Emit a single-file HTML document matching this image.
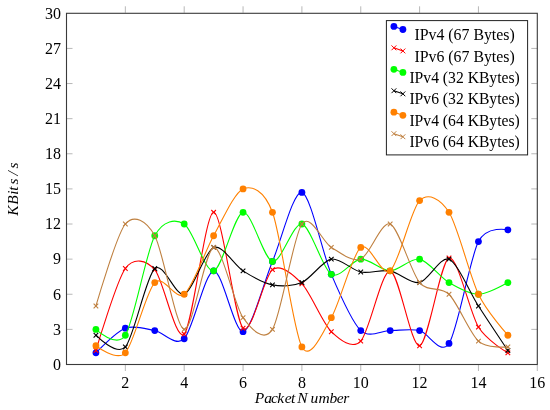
<!DOCTYPE html>
<html><head><meta charset="utf-8"><title>KBits/s vs PacketNumber</title>
<style>
html,body{margin:0;padding:0;background:#fff;width:550px;height:410px;overflow:hidden}
svg{display:block}
text{font-family:"Liberation Serif","DejaVu Serif",serif;fill:#000}
</style></head><body>
<svg width="550" height="410" viewBox="0 0 550 410">
<rect width="550" height="410" fill="#fff"/>
<path d="M125.35 365V371M125.35 12.8V6.3M184.2 365V371M184.2 12.8V6.3M243.05 365V371M243.05 12.8V6.3M301.9 365V371M301.9 12.8V6.3M360.75 365V371M360.75 12.8V6.3M419.6 365V371M419.6 12.8V6.3M478.45 365V371M478.45 12.8V6.3M537.3 365V371M66.5 329.38H72.5M537.3 329.38H531.3M66.5 294.26H72.5M537.3 294.26H531.3M66.5 259.14H72.5M537.3 259.14H531.3M66.5 224.02H72.5M537.3 224.02H531.3M66.5 188.9H72.5M537.3 188.9H531.3M66.5 153.78H72.5M537.3 153.78H531.3M66.5 118.66H72.5M537.3 118.66H531.3M66.5 83.54H72.5M537.3 83.54H531.3M66.5 48.42H72.5M537.3 48.42H531.3" stroke="#9a9a9a" stroke-width="0.7" fill="none"/>
<defs><clipPath id="c"><rect x="66.5" y="13.3" width="470.8" height="351.2"/></clipPath></defs>
<g clip-path="url(#c)" stroke-linejoin="round">
<path d="M95.92 352.79C95.92 352.79 116.82 331.43 125.35 328.21C133.88 324.98 146.24 329.02 154.77 330.55C163.31 332.08 175.67 347.4 184.2 338.75C192.73 330.09 205.09 271.87 213.62 270.85C222.16 269.83 234.52 333.08 243.05 331.72C251.58 330.36 263.94 281.68 272.47 261.48C281.01 241.28 293.37 190.54 301.9 192.41C310.43 194.28 322.79 254.33 331.32 274.36C339.86 294.39 352.22 322.4 360.75 330.55C369.28 338.7 381.64 330.55 390.17 330.55C398.71 330.55 411.07 328.68 419.6 330.55C428.13 332.42 440.49 356.33 449.02 343.43C457.56 330.53 469.92 258.05 478.45 241.58C486.98 225.11 507.87 229.87 507.87 229.87" stroke="#0000ff" stroke-width="1.1" fill="none"/>
<circle cx="95.92" cy="352.79" r="3.4" fill="#0000ff"/><circle cx="125.35" cy="328.21" r="3.4" fill="#0000ff"/><circle cx="154.77" cy="330.55" r="3.4" fill="#0000ff"/><circle cx="184.2" cy="338.75" r="3.4" fill="#0000ff"/><circle cx="213.62" cy="270.85" r="3.4" fill="#0000ff"/><circle cx="243.05" cy="331.72" r="3.4" fill="#0000ff"/><circle cx="272.47" cy="261.48" r="3.4" fill="#0000ff"/><circle cx="301.9" cy="192.41" r="3.4" fill="#0000ff"/><circle cx="331.32" cy="274.36" r="3.4" fill="#0000ff"/><circle cx="360.75" cy="330.55" r="3.4" fill="#0000ff"/><circle cx="390.17" cy="330.55" r="3.4" fill="#0000ff"/><circle cx="419.6" cy="330.55" r="3.4" fill="#0000ff"/><circle cx="449.02" cy="343.43" r="3.4" fill="#0000ff"/><circle cx="478.45" cy="241.58" r="3.4" fill="#0000ff"/><circle cx="507.87" cy="229.87" r="3.4" fill="#0000ff"/>
<path d="M95.92 350.45C95.92 350.45 116.82 280.22 125.35 268.51C133.88 256.79 146.24 260.17 154.77 269.68C163.31 279.18 175.67 342.38 184.2 334.06C192.73 325.75 205.09 213.16 213.62 212.31C222.16 211.46 234.52 319.89 243.05 328.21C251.58 336.53 263.94 276.13 272.47 269.68C281.01 263.23 293.37 274.73 301.9 283.72C310.43 292.72 322.79 323.4 331.32 331.72C339.86 340.04 352.22 349.91 360.75 341.09C369.28 332.26 381.64 270.17 390.17 270.85C398.71 271.53 411.07 347.64 419.6 345.77C428.13 343.9 440.49 260.69 449.02 257.97C457.56 255.25 469.92 313.29 478.45 327.04C486.98 340.79 507.87 352.79 507.87 352.79" stroke="#ff0000" stroke-width="1.1" fill="none"/>
<path d="M93.62 348.15L98.22 352.75M93.62 352.75L98.22 348.15" stroke="#ff0000" stroke-width="1.1" fill="none"/><path d="M123.05 266.21L127.65 270.81M123.05 270.81L127.65 266.21" stroke="#ff0000" stroke-width="1.1" fill="none"/><path d="M152.47 267.38L157.07 271.98M152.47 271.98L157.07 267.38" stroke="#ff0000" stroke-width="1.1" fill="none"/><path d="M181.9 331.76L186.5 336.36M181.9 336.36L186.5 331.76" stroke="#ff0000" stroke-width="1.1" fill="none"/><path d="M211.32 210.01L215.93 214.61M211.32 214.61L215.93 210.01" stroke="#ff0000" stroke-width="1.1" fill="none"/><path d="M240.75 325.91L245.35 330.51M240.75 330.51L245.35 325.91" stroke="#ff0000" stroke-width="1.1" fill="none"/><path d="M270.17 267.38L274.77 271.98M270.17 271.98L274.77 267.38" stroke="#ff0000" stroke-width="1.1" fill="none"/><path d="M299.6 281.42L304.2 286.02M299.6 286.02L304.2 281.42" stroke="#ff0000" stroke-width="1.1" fill="none"/><path d="M329.02 329.42L333.62 334.02M329.02 334.02L333.62 329.42" stroke="#ff0000" stroke-width="1.1" fill="none"/><path d="M358.45 338.79L363.05 343.39M358.45 343.39L363.05 338.79" stroke="#ff0000" stroke-width="1.1" fill="none"/><path d="M387.87 268.55L392.47 273.15M387.87 273.15L392.47 268.55" stroke="#ff0000" stroke-width="1.1" fill="none"/><path d="M417.3 343.47L421.9 348.07M417.3 348.07L421.9 343.47" stroke="#ff0000" stroke-width="1.1" fill="none"/><path d="M446.72 255.67L451.32 260.27M446.72 260.27L451.32 255.67" stroke="#ff0000" stroke-width="1.1" fill="none"/><path d="M476.15 324.74L480.75 329.34M476.15 329.34L480.75 324.74" stroke="#ff0000" stroke-width="1.1" fill="none"/><path d="M505.57 350.49L510.17 355.09M505.57 355.09L510.17 350.49" stroke="#ff0000" stroke-width="1.1" fill="none"/>
<path d="M95.92 329.38C95.92 329.38 116.82 348.81 125.35 335.23C133.88 321.65 146.24 251.85 154.77 235.73C163.31 219.6 175.67 218.93 184.2 224.02C192.73 229.11 205.09 272.54 213.62 270.85C222.16 269.15 234.52 213.67 243.05 212.31C251.58 210.96 263.94 259.78 272.47 261.48C281.01 263.18 293.37 222.15 301.9 224.02C310.43 225.89 322.79 269.27 331.32 274.36C339.86 279.45 352.22 259.65 360.75 259.14C369.28 258.63 381.64 270.85 390.17 270.85C398.71 270.85 411.07 257.44 419.6 259.14C428.13 260.84 440.49 277.46 449.02 282.55C457.56 287.65 469.92 294.26 478.45 294.26C486.98 294.26 507.87 282.55 507.87 282.55" stroke="#00ff00" stroke-width="1.1" fill="none"/>
<circle cx="95.92" cy="329.38" r="3.4" fill="#00ff00"/><circle cx="125.35" cy="335.23" r="3.4" fill="#00ff00"/><circle cx="154.77" cy="235.73" r="3.4" fill="#00ff00"/><circle cx="184.2" cy="224.02" r="3.4" fill="#00ff00"/><circle cx="213.62" cy="270.85" r="3.4" fill="#00ff00"/><circle cx="243.05" cy="212.31" r="3.4" fill="#00ff00"/><circle cx="272.47" cy="261.48" r="3.4" fill="#00ff00"/><circle cx="301.9" cy="224.02" r="3.4" fill="#00ff00"/><circle cx="331.32" cy="274.36" r="3.4" fill="#00ff00"/><circle cx="360.75" cy="259.14" r="3.4" fill="#00ff00"/><circle cx="390.17" cy="270.85" r="3.4" fill="#00ff00"/><circle cx="419.6" cy="259.14" r="3.4" fill="#00ff00"/><circle cx="449.02" cy="282.55" r="3.4" fill="#00ff00"/><circle cx="478.45" cy="294.26" r="3.4" fill="#00ff00"/><circle cx="507.87" cy="282.55" r="3.4" fill="#00ff00"/>
<path d="M95.92 335.23C95.92 335.23 116.82 356.62 125.35 346.94C133.88 337.26 146.24 276.14 154.77 268.51C163.31 260.87 175.67 297.32 184.2 294.26C192.73 291.2 205.09 250.83 213.62 247.43C222.16 244.04 234.52 265.41 243.05 270.85C251.58 276.28 263.94 283.2 272.47 284.89C281.01 286.59 293.37 286.29 301.9 282.55C310.43 278.82 322.79 260.67 331.32 259.14C339.86 257.61 352.22 270.32 360.75 272.02C369.28 273.71 381.64 269.32 390.17 270.85C398.71 272.37 411.07 284.25 419.6 282.55C428.13 280.86 440.49 255.75 449.02 259.14C457.56 262.53 469.92 292.73 478.45 305.97C486.98 319.21 507.87 350.45 507.87 350.45" stroke="#000000" stroke-width="1.1" fill="none"/>
<path d="M93.62 332.93L98.22 337.53M93.62 337.53L98.22 332.93" stroke="#000000" stroke-width="1.1" fill="none"/><path d="M123.05 344.64L127.65 349.24M123.05 349.24L127.65 344.64" stroke="#000000" stroke-width="1.1" fill="none"/><path d="M152.47 266.21L157.07 270.81M152.47 270.81L157.07 266.21" stroke="#000000" stroke-width="1.1" fill="none"/><path d="M181.9 291.96L186.5 296.56M181.9 296.56L186.5 291.96" stroke="#000000" stroke-width="1.1" fill="none"/><path d="M211.32 245.13L215.93 249.73M211.32 249.73L215.93 245.13" stroke="#000000" stroke-width="1.1" fill="none"/><path d="M240.75 268.55L245.35 273.15M240.75 273.15L245.35 268.55" stroke="#000000" stroke-width="1.1" fill="none"/><path d="M270.17 282.59L274.77 287.19M270.17 287.19L274.77 282.59" stroke="#000000" stroke-width="1.1" fill="none"/><path d="M299.6 280.25L304.2 284.85M299.6 284.85L304.2 280.25" stroke="#000000" stroke-width="1.1" fill="none"/><path d="M329.02 256.84L333.62 261.44M329.02 261.44L333.62 256.84" stroke="#000000" stroke-width="1.1" fill="none"/><path d="M358.45 269.72L363.05 274.32M358.45 274.32L363.05 269.72" stroke="#000000" stroke-width="1.1" fill="none"/><path d="M387.87 268.55L392.47 273.15M387.87 273.15L392.47 268.55" stroke="#000000" stroke-width="1.1" fill="none"/><path d="M417.3 280.25L421.9 284.85M417.3 284.85L421.9 280.25" stroke="#000000" stroke-width="1.1" fill="none"/><path d="M446.72 256.84L451.32 261.44M446.72 261.44L451.32 256.84" stroke="#000000" stroke-width="1.1" fill="none"/><path d="M476.15 303.67L480.75 308.27M476.15 308.27L480.75 303.67" stroke="#000000" stroke-width="1.1" fill="none"/><path d="M505.57 348.15L510.17 352.75M505.57 352.75L510.17 348.15" stroke="#000000" stroke-width="1.1" fill="none"/>
<path d="M95.92 345.77C95.92 345.77 116.82 361.96 125.35 352.79C133.88 343.63 146.24 291.04 154.77 282.55C163.31 274.07 175.67 301.05 184.2 294.26C192.73 287.47 205.09 251 213.62 235.73C222.16 220.45 234.52 192.29 243.05 188.9C251.58 185.51 263.94 189.4 272.47 212.31C281.01 235.23 293.37 331.66 301.9 346.94C310.43 362.22 322.79 332.1 331.32 317.67C339.86 303.24 352.22 254.22 360.75 247.43C369.28 240.64 381.64 277.64 390.17 270.85C398.71 264.06 411.07 209.09 419.6 200.61C428.13 192.12 440.49 198.73 449.02 212.31C457.56 225.89 469.92 276.44 478.45 294.26C486.98 312.08 507.87 335.23 507.87 335.23" stroke="#ff8000" stroke-width="1.1" fill="none"/>
<circle cx="95.92" cy="345.77" r="3.4" fill="#ff8000"/><circle cx="125.35" cy="352.79" r="3.4" fill="#ff8000"/><circle cx="154.77" cy="282.55" r="3.4" fill="#ff8000"/><circle cx="184.2" cy="294.26" r="3.4" fill="#ff8000"/><circle cx="213.62" cy="235.73" r="3.4" fill="#ff8000"/><circle cx="243.05" cy="188.9" r="3.4" fill="#ff8000"/><circle cx="272.47" cy="212.31" r="3.4" fill="#ff8000"/><circle cx="301.9" cy="346.94" r="3.4" fill="#ff8000"/><circle cx="331.32" cy="317.67" r="3.4" fill="#ff8000"/><circle cx="360.75" cy="247.43" r="3.4" fill="#ff8000"/><circle cx="390.17" cy="270.85" r="3.4" fill="#ff8000"/><circle cx="419.6" cy="200.61" r="3.4" fill="#ff8000"/><circle cx="449.02" cy="212.31" r="3.4" fill="#ff8000"/><circle cx="478.45" cy="294.26" r="3.4" fill="#ff8000"/><circle cx="507.87" cy="335.23" r="3.4" fill="#ff8000"/>
<path d="M95.92 305.97C95.92 305.97 116.82 234.2 125.35 224.02C133.88 213.84 146.24 220.45 154.77 235.73C163.31 251 175.67 327.68 184.2 329.38C192.73 331.08 205.09 249.13 213.62 247.43C222.16 245.74 234.52 305.79 243.05 317.67C251.58 329.56 263.94 342.96 272.47 329.38C281.01 315.8 293.37 235.9 301.9 224.02C310.43 212.14 322.79 242.34 331.32 247.43C339.86 252.53 352.22 262.53 360.75 259.14C369.28 255.75 381.64 220.63 390.17 224.02C398.71 227.41 411.07 272.37 419.6 282.55C428.13 292.74 440.49 285.77 449.02 294.26C457.56 302.75 469.92 333.45 478.45 341.09C486.98 348.73 507.87 346.94 507.87 346.94" stroke="#bf8040" stroke-width="1.1" fill="none"/>
<path d="M93.62 303.67L98.22 308.27M93.62 308.27L98.22 303.67" stroke="#bf8040" stroke-width="1.1" fill="none"/><path d="M123.05 221.72L127.65 226.32M123.05 226.32L127.65 221.72" stroke="#bf8040" stroke-width="1.1" fill="none"/><path d="M152.47 233.43L157.07 238.03M152.47 238.03L157.07 233.43" stroke="#bf8040" stroke-width="1.1" fill="none"/><path d="M181.9 327.08L186.5 331.68M181.9 331.68L186.5 327.08" stroke="#bf8040" stroke-width="1.1" fill="none"/><path d="M211.32 245.13L215.93 249.73M211.32 249.73L215.93 245.13" stroke="#bf8040" stroke-width="1.1" fill="none"/><path d="M240.75 315.37L245.35 319.97M240.75 319.97L245.35 315.37" stroke="#bf8040" stroke-width="1.1" fill="none"/><path d="M270.17 327.08L274.77 331.68M270.17 331.68L274.77 327.08" stroke="#bf8040" stroke-width="1.1" fill="none"/><path d="M299.6 221.72L304.2 226.32M299.6 226.32L304.2 221.72" stroke="#bf8040" stroke-width="1.1" fill="none"/><path d="M329.02 245.13L333.62 249.73M329.02 249.73L333.62 245.13" stroke="#bf8040" stroke-width="1.1" fill="none"/><path d="M358.45 256.84L363.05 261.44M358.45 261.44L363.05 256.84" stroke="#bf8040" stroke-width="1.1" fill="none"/><path d="M387.87 221.72L392.47 226.32M387.87 226.32L392.47 221.72" stroke="#bf8040" stroke-width="1.1" fill="none"/><path d="M417.3 280.25L421.9 284.85M417.3 284.85L421.9 280.25" stroke="#bf8040" stroke-width="1.1" fill="none"/><path d="M446.72 291.96L451.32 296.56M446.72 296.56L451.32 291.96" stroke="#bf8040" stroke-width="1.1" fill="none"/><path d="M476.15 338.79L480.75 343.39M476.15 343.39L480.75 338.79" stroke="#bf8040" stroke-width="1.1" fill="none"/><path d="M505.57 344.64L510.17 349.24M505.57 349.24L510.17 344.64" stroke="#bf8040" stroke-width="1.1" fill="none"/>
</g>
<rect x="66.5" y="13.3" width="470.8" height="351.2" fill="none" stroke="#3a3a3a" stroke-width="1.1"/>
<text x="61" y="369.8" font-size="16" text-anchor="end">0</text><text x="61" y="334.68" font-size="16" text-anchor="end">3</text><text x="61" y="299.56" font-size="16" text-anchor="end">6</text><text x="61" y="264.44" font-size="16" text-anchor="end">9</text><text x="61" y="229.32" font-size="16" text-anchor="end">12</text><text x="61" y="194.2" font-size="16" text-anchor="end">15</text><text x="61" y="159.08" font-size="16" text-anchor="end">18</text><text x="61" y="123.96" font-size="16" text-anchor="end">21</text><text x="61" y="88.84" font-size="16" text-anchor="end">24</text><text x="61" y="53.72" font-size="16" text-anchor="end">27</text><text x="61" y="18.6" font-size="16" text-anchor="end">30</text>
<text x="125.35" y="387.7" font-size="16" text-anchor="middle">2</text><text x="184.2" y="387.7" font-size="16" text-anchor="middle">4</text><text x="243.05" y="387.7" font-size="16" text-anchor="middle">6</text><text x="301.9" y="387.7" font-size="16" text-anchor="middle">8</text><text x="360.75" y="387.7" font-size="16" text-anchor="middle">10</text><text x="419.6" y="387.7" font-size="16" text-anchor="middle">12</text><text x="478.45" y="387.7" font-size="16" text-anchor="middle">14</text><text x="537.3" y="387.7" font-size="16" text-anchor="middle">16</text>
<text x="254.8 264.13 270.96 277.37 284.75 291.05 297.2 310.62 318.6 329.52 336.75 343.15" y="403.4" font-size="15.5" font-style="italic">PacketNumber</text>
<text transform="translate(17.9 214.7) rotate(-90)" x="-1.01 9.96 19.85 24.05 30.32 39.11 46.32" y="0" font-size="15.5" font-style="italic">KBits/s</text>
<rect x="386.4" y="20.6" width="141.2" height="134.3" fill="#fff" stroke="#222" stroke-width="1"/>
<path d="M393.9 26.4L402.9 29.5" stroke="#0000ff" stroke-width="1.1"/><circle cx="393.9" cy="26.4" r="3.4" fill="#0000ff"/><circle cx="402.9" cy="29.5" r="3.4" fill="#0000ff"/><text x="464.6" y="40.2" font-size="16" text-anchor="middle" textLength="100.2" lengthAdjust="spacingAndGlyphs">IPv4 (67 Bytes)</text>
<path d="M393.9 47.85L402.9 50.95" stroke="#ff0000" stroke-width="1.1"/><path d="M391.5 45.45L396.3 50.25M391.5 50.25L396.3 45.45" stroke="#ff0000" stroke-width="1" fill="none"/><path d="M400.5 48.55L405.3 53.35M400.5 53.35L405.3 48.55" stroke="#ff0000" stroke-width="1" fill="none"/><text x="464.6" y="61.53" font-size="16" text-anchor="middle" textLength="100.2" lengthAdjust="spacingAndGlyphs">IPv6 (67 Bytes)</text>
<path d="M393.9 69.3L402.9 72.4" stroke="#00ff00" stroke-width="1.1"/><circle cx="393.9" cy="69.3" r="3.4" fill="#00ff00"/><circle cx="402.9" cy="72.4" r="3.4" fill="#00ff00"/><text x="464.6" y="82.86" font-size="16" text-anchor="middle" textLength="110.4" lengthAdjust="spacingAndGlyphs">IPv4 (32 KBytes)</text>
<path d="M393.9 90.75L402.9 93.85" stroke="#000000" stroke-width="1.1"/><path d="M391.5 88.35L396.3 93.15M391.5 93.15L396.3 88.35" stroke="#000000" stroke-width="1" fill="none"/><path d="M400.5 91.45L405.3 96.25M400.5 96.25L405.3 91.45" stroke="#000000" stroke-width="1" fill="none"/><text x="464.6" y="104.19" font-size="16" text-anchor="middle" textLength="110.4" lengthAdjust="spacingAndGlyphs">IPv6 (32 KBytes)</text>
<path d="M393.9 112.2L402.9 115.3" stroke="#ff8000" stroke-width="1.1"/><circle cx="393.9" cy="112.2" r="3.4" fill="#ff8000"/><circle cx="402.9" cy="115.3" r="3.4" fill="#ff8000"/><text x="464.6" y="125.52" font-size="16" text-anchor="middle" textLength="110.4" lengthAdjust="spacingAndGlyphs">IPv4 (64 KBytes)</text>
<path d="M393.9 133.65L402.9 136.75" stroke="#bf8040" stroke-width="1.1"/><path d="M391.5 131.25L396.3 136.05M391.5 136.05L396.3 131.25" stroke="#bf8040" stroke-width="1" fill="none"/><path d="M400.5 134.35L405.3 139.15M400.5 139.15L405.3 134.35" stroke="#bf8040" stroke-width="1" fill="none"/><text x="464.6" y="146.85" font-size="16" text-anchor="middle" textLength="110.4" lengthAdjust="spacingAndGlyphs">IPv6 (64 KBytes)</text>
</svg>
</body></html>
